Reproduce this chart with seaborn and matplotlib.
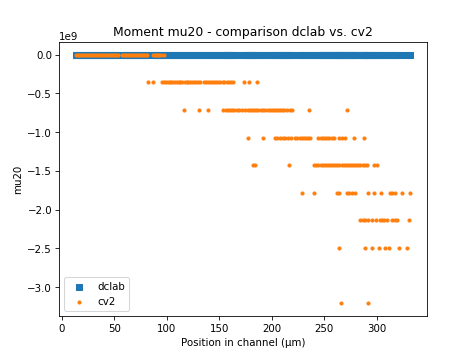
import matplotlib

matplotlib.use("Agg")

import matplotlib.pyplot as plt
import numpy as np
import pandas as pd
import seaborn as sns

# x positions (µm) of events, grouped by the cv2 mu20 level they fall on
pos_level0 = [13.5, 15, 16.5, 18, 19.5, 21, 22.5, 24, 25.5, 27, 28.5, 30, 31.5, 33,
              34.5, 36, 37.5, 39, 40.5, 42, 43.5, 45, 46.5, 48, 49.5, 51, 52.5, 54,
              57.5, 59, 60.5, 62, 63.5, 65, 66.5, 68, 69.5, 71, 72.5, 74, 75.5, 77,
              78.5, 80, 81.5, 87, 88.5, 90, 91.5, 93, 95, 97]
pos_level1 = [82.4, 87.2, 95.5, 97, 99.5, 101, 103, 104.5, 106, 108, 110, 111.5, 113,
              115, 117, 119, 120.5, 122, 124, 126, 128, 130, 132, 135.5, 137, 139,
              141, 143, 145, 147, 149, 151, 153.5, 155, 157, 159, 161, 163.5, 173.6,
              178.6, 185.7]
pos_level2 = [116, 130.5, 139, 153.5, 156, 158, 160, 162, 164, 166.5, 169, 172, 175,
              177, 179, 181, 183, 185, 187, 189.5, 192, 194, 196, 198, 200, 202, 204,
              206, 208, 210, 212, 214.5, 217, 219.5, 235.5, 272]
pos_level3 = [177.7, 192, 203, 205.5, 208, 210.5, 213, 215.5, 218, 222.5, 224.5, 226.5,
              228.5, 230.5, 232.5, 234.5, 236.5, 244.5, 246.5, 248.5, 250.5, 252.5,
              254.5, 257, 259, 264.5, 267, 270, 278.7, 288.2]
pos_level4 = [182, 184.5, 216.7, 240.3, 242.5, 244.5, 246.5, 248.5, 250.5, 252.5, 254.5,
              256.5, 258.5, 260.5, 262.5, 264.5, 266.5, 268.5, 270.5, 272.5, 274.5,
              276.5, 278.5, 280.5, 282.5, 284.5, 286.5, 288.5, 291, 297, 300.5]
pos_level5 = [228.6, 240.3, 262, 264.5, 271.5, 274, 276.5, 279, 291.4, 297.4, 303.8,
              313, 315, 317.5, 323.8, 331.7]
pos_level6 = [284.5, 286.5, 289, 292, 295.5, 299, 303, 305, 307, 309.5, 314.5, 317,
              319, 330.5]
pos_level7 = [264.4, 288.9, 295.3, 302.5, 307.9, 312, 321.6, 328.6]
pos_level8 = [266, 292]

# cv2 mu20 value of each level
cv2_levels = [0.0, -0.3565e9, -0.713e9, -1.07e9, -1.426e9, -1.78e9, -2.14e9, -2.50e9, -3.21e9]
# dclab mu20 is ~0 for every event
dclab_level = 0.0

level_positions = [pos_level0, pos_level1, pos_level2, pos_level3, pos_level4,
                   pos_level5, pos_level6, pos_level7, pos_level8]

cv2 = pd.DataFrame(
    [(x, level) for xs, level in zip(level_positions, cv2_levels) for x in xs],
    columns=["pos", "mu20"],
)
dclab = pd.DataFrame({"pos": cv2["pos"], "mu20": dclab_level})

fig, ax = plt.subplots(figsize=(6.4, 4.8), dpi=74.07)
sns.scatterplot(data=dclab, x="pos", y="mu20", marker="s", s=36, color="#1f77b4",
                edgecolor="#1f77b4", linewidth=1, label="dclab", ax=ax)
sns.scatterplot(data=cv2, x="pos", y="mu20", marker=".", s=36, color="#ff7f0e",
                edgecolor="#ff7f0e", linewidth=1, label="cv2", ax=ax)
ax.set_title("Moment mu20 - comparison dclab vs. cv2")
ax.set_xlabel("Position in channel (µm)")
ax.set_ylabel("mu20")
ax.legend(loc="lower left")
fig.savefig("out.png", dpi=74.07, facecolor="white")
